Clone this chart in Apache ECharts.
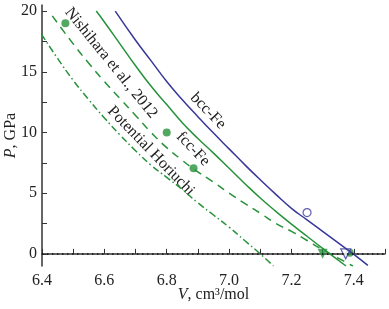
<!DOCTYPE html>
<html>
<head>
<meta charset="utf-8">
<script src="https://cdn.jsdelivr.net/npm/echarts@6/dist/echarts.min.js"></script>
<style>
  html, body { margin: 0; padding: 0; background: #fff; }
  #chart { width: 389px; height: 309px; }
</style>
</head>
<body>
<div id="chart"></div>
<script>
// curves: [V, P]
var bccFe = [[6.635, 20], [6.70, 17.6], [6.75, 15.9], [6.80, 14.2], [6.85, 12.7], [6.90, 11.3],
  [6.95, 9.95], [7.00, 8.65], [7.05, 7.35], [7.10, 6.1], [7.15, 4.9], [7.20, 3.75],
  [7.25, 2.8], [7.30, 1.85], [7.35, 0.9], [7.40, -0.05], [7.445, -0.95]];
var fccFe = [[6.574, 20], [6.60, 19.1], [6.65, 17.3], [6.70, 15.5], [6.75, 13.8], [6.80, 12.3],
  [6.85, 10.8], [6.90, 9.5], [6.95, 8.3], [7.00, 7.05], [7.05, 5.8], [7.10, 4.6],
  [7.15, 3.5], [7.20, 2.45], [7.25, 1.45], [7.30, 0.45], [7.375, -1]];
var nishihara = [[6.433, 19.6], [6.50, 17.3], [6.55, 15.7], [6.60, 14.2], [6.65, 12.8], [6.70, 11.4],
  [6.75, 10.0], [6.80, 8.75], [6.85, 7.7], [6.886, 7.0], [6.95, 5.9], [7.00, 5.0],
  [7.05, 4.15], [7.10, 3.35], [7.15, 2.5], [7.20, 1.85], [7.25, 1.1], [7.30, 0.35],
  [7.35, -0.35], [7.397, -1]];
var horiuchi = [[6.398, 18.1], [6.45, 16.1], [6.50, 14.3], [6.55, 12.7], [6.60, 11.2], [6.65, 9.8],
  [6.70, 8.5], [6.75, 7.3], [6.80, 6.3], [6.85, 5.3], [6.90, 4.2], [6.95, 3.2],
  [7.00, 2.2], [7.05, 1.1], [7.10, 0.0], [7.142, -1]];

// experimental points
var greenDots = [[6.475, 19.0], [6.80, 10.0], [6.886, 7.05], [7.387, 0.1]];
var blueCircle = [[7.25, 3.4]];
var greenTriangle = [[7.30, 0.0]];
var blueTriangle = [[7.374, 0.0]];

var xTicks = [6.4, 6.5, 6.6, 6.7, 6.8, 6.9, 7.0, 7.1, 7.2, 7.3, 7.4, 7.5];
var xLabels = [6.4, 6.6, 6.8, 7.0, 7.2, 7.4];
var yTicks = [0, 2.5, 5, 7.5, 10, 12.5, 15, 17.5, 20];
var yLabels = [0, 5, 10, 15, 20];

var blue = '#38379a';
var green = '#27923a';
var axisColor = '#333';
var serif = '"Liberation Serif", "DejaVu Serif", serif';

var chart = echarts.init(document.getElementById('chart'));

function curve(data, color, type) {
    return {
        type: 'line', data: data, showSymbol: false, smooth: true, silent: true,
        lineStyle: { color: color, width: 1.5, type: type }
    };
}

function labelText(text, x, y, deg) {
    return {
        type: 'text', x: x, y: y, rotation: -deg * Math.PI / 180,
        style: {
            text: text, fill: '#222', font: '16px ' + serif,
            align: 'center', verticalAlign: 'middle'
        }
    };
}

var nameStyle = {
    fontFamily: serif, fontSize: 16, color: '#222',
    rich: { i: { fontFamily: serif, fontSize: 16, fontStyle: 'italic', color: '#222' } }
};

var option = {
    animation: false,
    backgroundColor: '#fff',
    grid: { left: 42, right: 4, top: 5, bottom: 43, outerBoundsMode: 'none', containLabel: false },
    xAxis: {
        type: 'value', min: 6.4, max: 7.5,
        name: '{i|V}, cm³/mol',
        nameLocation: 'middle', nameGap: 21, nameMoveOverlap: false,
        nameTextStyle: nameStyle,
        axisLine: { lineStyle: { color: axisColor, width: 1.5 } },
        axisTick: { inside: true, length: 5, customValues: xTicks, lineStyle: { color: axisColor } },
        axisLabel: {
            customValues: xLabels, margin: 7, color: '#222', fontFamily: serif, fontSize: 16,
            formatter: function (v) { return v.toFixed(1); }
        },
        splitLine: { show: false }
    },
    yAxis: {
        type: 'value', min: -1, max: 20.5,
        name: '{i|P}, GPa',
        nameLocation: 'middle', nameGap: 23, nameRotate: 90, nameMoveOverlap: false,
        nameTextStyle: nameStyle,
        axisLine: { show: true, lineStyle: { color: axisColor, width: 1.5 } },
        axisTick: { show: true, inside: true, length: 5, customValues: yTicks, lineStyle: { color: axisColor } },
        axisLabel: {
            customValues: yLabels, margin: 5, color: '#222', fontFamily: serif, fontSize: 16
        },
        splitLine: { show: false }
    },
    series: [
        {
            type: 'line', data: [], silent: true,
            markLine: {
                silent: true, symbol: 'none', label: { show: false },
                lineStyle: { color: '#111', width: 1.5, type: [1.5, 3.5] },
                data: [{ yAxis: 0 }]
            }
        },
        curve(horiuchi, green, [7, 3, 1.5, 3]),
        curve(nishihara, green, [8, 6]),
        curve(fccFe, green, 'solid'),
        curve(bccFe, blue, 'solid'),
        {
            type: 'scatter', data: greenDots, symbol: 'circle', symbolSize: 8,
            itemStyle: { color: green }
        },
        {
            type: 'scatter', data: blueCircle, symbol: 'circle', symbolSize: 8,
            itemStyle: { color: '#fff', borderColor: blue, borderWidth: 1.2 }
        },
        {
            type: 'scatter', data: greenTriangle, symbol: 'triangle', symbolRotate: 180, symbolSize: 10,
            itemStyle: { color: green }
        },
        {
            type: 'scatter', data: blueTriangle, symbol: 'triangle', symbolRotate: 180, symbolSize: 10,
            itemStyle: { color: '#fff', borderColor: blue, borderWidth: 1.2 }
        }
    ],
    graphic: [
        labelText('Nishihara et al., 2012', 111, 63, 51),
        labelText('bcc-Fe', 208, 111, 46),
        labelText('fcc-Fe', 193, 149, 46),
        labelText('Potential Horiuchi', 151, 151, 46)
    ]
};

chart.setOption(option);
</script>
</body>
</html>
